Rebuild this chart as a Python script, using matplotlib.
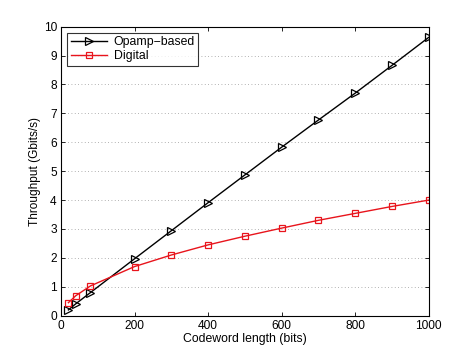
import matplotlib
matplotlib.use("Agg")
import matplotlib.pyplot as plt

x_opamp = [20, 40, 80, 200, 300, 400, 500, 600, 700, 800, 900, 1000]
y_opamp = [0.20, 0.41, 0.80, 1.97, 2.94, 3.91, 4.87, 5.83, 6.77, 7.70, 8.66, 9.63]
x_dig = [20, 40, 80, 200, 300, 400, 500, 600, 700, 800, 900, 1000]
y_dig = [0.45, 0.69, 1.03, 1.70, 2.10, 2.45, 2.75, 3.03, 3.30, 3.54, 3.78, 4.00]
xticks = [0, 200, 400, 600, 800, 1000]
yticks = list(range(0, 11))

plt.rcParams['font.family'] = ['Liberation Sans', 'DejaVu Sans']
fig = plt.figure(figsize=(4.74, 3.55), dpi=100)
ax = fig.add_axes([0.1287, 0.1107, 0.7757, 0.8141])

ax.plot(x_opamp, y_opamp, color='black', lw=1.0, marker='>', markersize=6,
        markerfacecolor='none', markeredgecolor='black', markeredgewidth=0.9, label='Opamp\u2212based')
ax.plot(x_dig, y_dig, color='#e8141c', lw=1.0, marker='s', markersize=5,
        markerfacecolor='none', markeredgecolor='#e8141c', markeredgewidth=0.9, label='Digital')

ax.set_xlim(0, 1000)
ax.set_ylim(0, 10)
ax.set_xticks(xticks)
ax.set_yticks(yticks)
ax.tick_params(direction='in', top=True, right=True, labelsize=8.6, length=3, width=0.6, pad=3)
ax.yaxis.grid(True, linestyle=(0, (1, 3)), color='#999999', lw=0.6)
ax.set_axisbelow(True)
for s in ax.spines.values():
    s.set_linewidth(0.8)
ax.set_xlabel('Codeword length (bits)', fontsize=8.8, labelpad=1)
ax.set_ylabel('Throughput (Gbits/s)', fontsize=8.6, labelpad=2)

leg = ax.legend(loc='upper left', fontsize=8.8, handlelength=3.0, frameon=True, fancybox=False,
                edgecolor='black', borderaxespad=0.5, borderpad=0.3, labelspacing=0.15, handletextpad=0.5)
leg.get_frame().set_linewidth(0.8)

fig.savefig('out.png', dpi=100)
